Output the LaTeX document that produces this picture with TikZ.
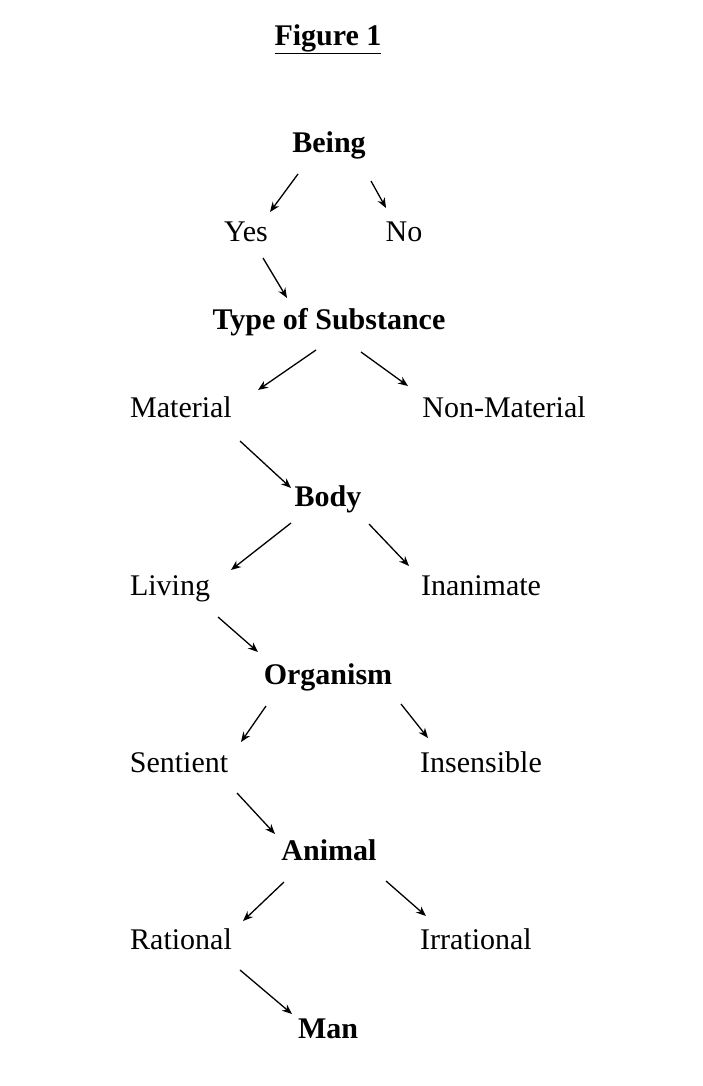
\documentclass[tikz,border=0pt]{standalone}
\usepackage{fontspec}
\setmainfont{Liberation Serif}
\usetikzlibrary{arrows.meta}

\begin{document}
\begin{tikzpicture}[
    x=1pt, y=-1pt,
    every node/.style={font=\fontsize{30}{34}\selectfont, inner sep=0pt, text height=0.7em, text depth=0.2em},
    head/.style={font=\fontsize{30}{34}\selectfont\bfseries},
    arrow/.style={-{Stealth[length=10pt,width=8pt]}, line width=1.3pt}
]
\useasboundingbox (0,0) rectangle (703,1086);

% Title
\node[head] (title) at (328,43) {\underline{Figure 1}};

% Levels
\node[head] (being) at (329,150) {Being};
\node (yes) at (246,239) {Yes};
\node (no) at (404,239) {No};
\node[head] (subst) at (329,327) {Type of Substance};
\node (material) at (181,415) {Material};
\node (nonmat) at (504,415) {Non-Material};
\node[head] (body) at (328,504) {Body};
\node (living) at (170,593) {Living};
\node (inanimate) at (481,593) {Inanimate};
\node[head] (organism) at (328,682) {Organism};
\node (sentient) at (179,770) {Sentient};
\node (insensible) at (481,770) {Insensible};
\node[head] (animal) at (329,858) {Animal};
\node (rational) at (181,947) {Rational};
\node (irrational) at (476,947) {Irrational};
\node[head] (man) at (328,1036) {Man};

% Arrows
\draw[arrow] ([shift={(-31,24)}]being.center) -- ([shift={(24,-27)}]yes.center);
\draw[arrow] ([shift={(42,31)}]being.center) -- ([shift={(-18,-31)}]no.center);
\draw[arrow] ([shift={(17,19)}]yes.center) -- ([shift={(-42,-29)}]subst.center);
\draw[arrow] ([shift={(-13,23)}]subst.center) -- ([shift={(77,-25)}]material.center);
\draw[arrow] ([shift={(32,25)}]subst.center) -- ([shift={(-96,-29)}]nonmat.center);
\draw[arrow] ([shift={(59,26)}]material.center) -- ([shift={(-37,-16)}]body.center);
\draw[arrow] ([shift={(-37,19)}]body.center) -- ([shift={(61,-23)}]living.center);
\draw[arrow] ([shift={(41,20)}]body.center) -- ([shift={(-72,-27)}]inanimate.center);
\draw[arrow] ([shift={(48,24)}]living.center) -- ([shift={(-70,-30)}]organism.center);
\draw[arrow] ([shift={(-62,24)}]organism.center) -- ([shift={(62,-28)}]sentient.center);
\draw[arrow] ([shift={(73,22)}]organism.center) -- ([shift={(-53,-32)}]insensible.center);
\draw[arrow] ([shift={(58,23)}]sentient.center) -- ([shift={(-54,-24)}]animal.center);
\draw[arrow] ([shift={(-45,24)}]animal.center) -- ([shift={(62,-26)}]rational.center);
\draw[arrow] ([shift={(57,23)}]animal.center) -- ([shift={(-50,-31)}]irrational.center);
\draw[arrow] ([shift={(59,23)}]rational.center) -- ([shift={(-36,-22)}]man.center);

\end{tikzpicture}
\end{document}
